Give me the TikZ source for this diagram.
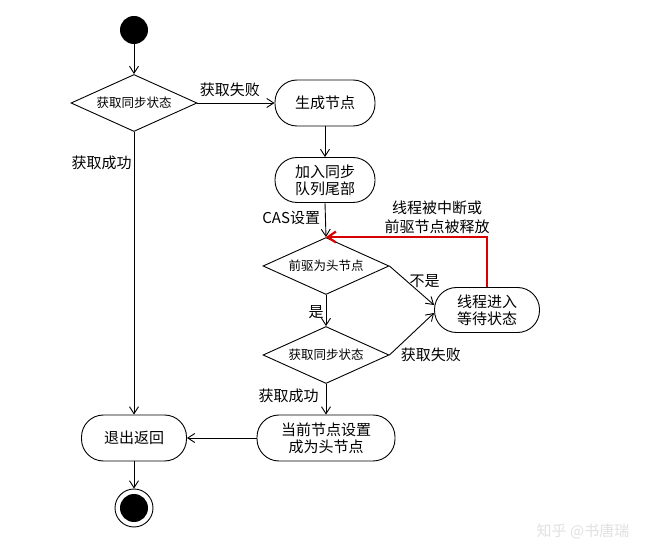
\documentclass[tikz,border=0pt]{standalone}
\usepackage{fontspec}
\setmainfont{Noto Sans CJK SC}
\usetikzlibrary{arrows.meta,shapes.geometric}

\begin{document}
\begin{tikzpicture}[
    x=1pt, y=-1pt,
    flow/.style={draw, line width=0.9pt, -{Straight Barb[length=7pt, width=9pt]}},
    back/.style={draw=red!85!black, line width=2.2pt, -{Straight Barb[length=8pt, width=11pt]}},
    act/.style={draw, line width=0.9pt, rounded corners=22pt, minimum height=46pt, align=center, font=\fontsize{15}{17}\selectfont},
    decision/.style={draw, line width=0.9pt, diamond, aspect=2.2, inner sep=0pt, minimum width=126pt, minimum height=57pt, font=\fontsize{12.5}{15}\selectfont},
    lbl/.style={font=\fontsize{15}{17}\selectfont, inner sep=2pt},
]
    \useasboundingbox (0,0) rectangle (662,556);

    % start and end
    \node[circle, fill=black, minimum size=28pt, inner sep=0pt] (start) at (134,30) {};
    \node[circle, draw, line width=0.9pt, minimum size=38pt, inner sep=0pt] (stop) at (134,508) {};
    \fill (stop.center) circle (14pt);

    % decisions
    \node[decision] (acq) at (134,103) {获取同步状态};
    \node[decision] (headq) at (326,266) {前驱为头节点};
    \node[decision] (acq2) at (326,355) {获取同步状态};

    % actions
    \node[act, minimum width=100pt] (mknode) at (325,103) {生成节点};
    \node[act, minimum width=100pt, minimum height=45pt] (enq) at (325,180) {加入同步\\队列尾部};
    \node[act, minimum width=105pt, minimum height=45pt] (park) at (487,310) {线程进入\\等待状态};
    \node[act, minimum width=138pt] (sethead) at (326,438) {当前节点设置\\成为头节点};
    \node[act, minimum width=105pt] (quit) at (134,438) {退出返回};

    % connectors
    \draw[flow] (start) -- (acq);
    \draw[flow] (acq.east) -- (mknode.west) node[lbl, pos=0.42, above=4pt] {获取失败};
    \draw[flow] (acq.south) -- (quit.north) node[lbl, pos=0.11, left] {获取成功};
    \draw[flow] (mknode) -- (enq);
    \draw[flow] (enq.south) -- (headq.north) node[lbl, pos=0.45, left=3pt] {CAS设置};
    \draw[flow] (headq.east) -- ([yshift=5pt]park.west) node[lbl, pos=0.4, right] {不是};
    \draw[flow] (headq.south) -- (acq2.north) node[lbl, pos=0.55, left] {是};
    \draw[flow] (acq2.east) -- ([yshift=-3pt]park.west) node[lbl, pos=0, right=9pt] {获取失败};
    \draw[flow] (acq2.south) -- (sethead.north) node[lbl, pos=0.4, left=5pt] {获取成功};
    \draw[flow] (sethead.west) -- (quit.east);
    \draw[flow] (quit.south) -- (stop.north);
    \draw[back] (park.north) |- (headq.north) node[lbl, pos=0.655, above, align=center, font=\fontsize{15}{19}\selectfont] {线程被中断或\\前驱节点被释放};

    % watermark
    \node[lbl, text=black!12] (mark) at (583,531) {知乎 @书唐瑞};
\end{tikzpicture}
\end{document}
